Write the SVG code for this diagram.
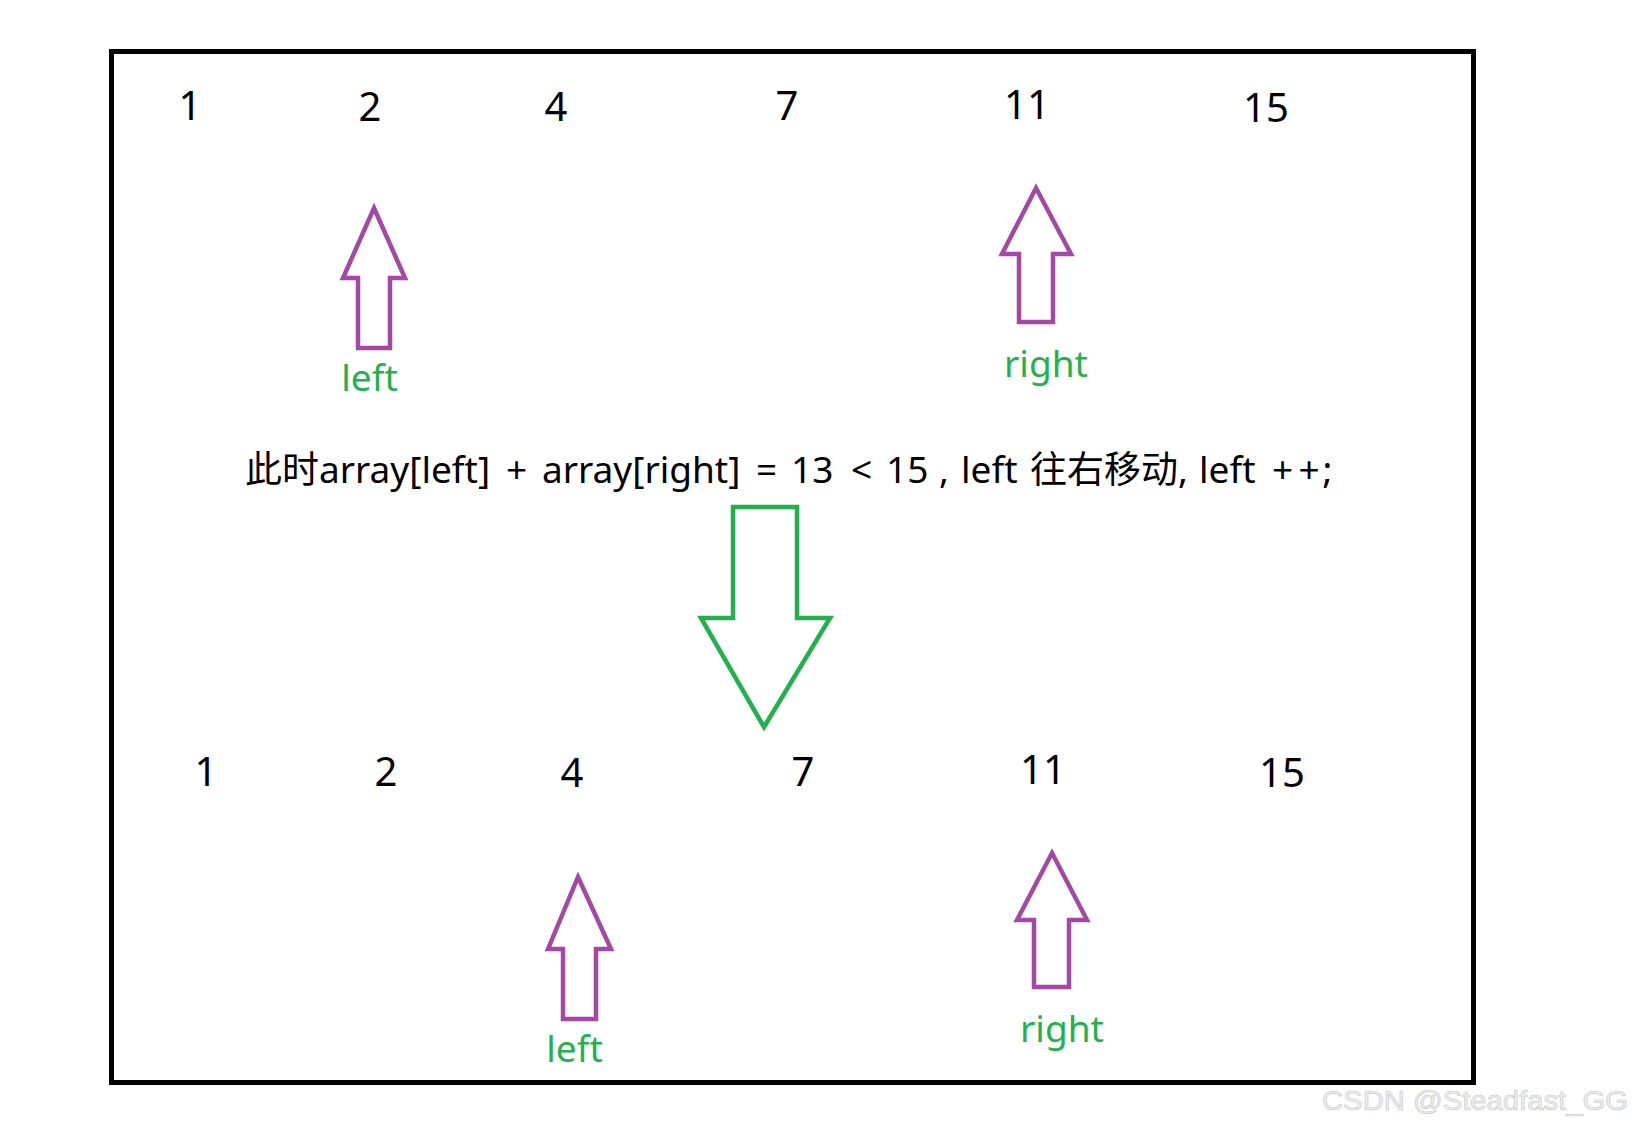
<svg xmlns="http://www.w3.org/2000/svg" width="1635" height="1127" viewBox="0 0 1635 1127">
<style>
.num{font-family:"Noto Sans","Open Sans","Noto Sans CJK SC",sans-serif;font-size:40px;fill:#000;text-anchor:middle}
.lbl{font-family:"Noto Sans","Open Sans",sans-serif;font-size:37px;fill:#22b14c;text-anchor:middle}
.stmt{font-family:"Noto Sans","Noto Sans CJK SC",sans-serif;font-size:37px;fill:#000}
.ptr{fill:none;stroke:#a349a4;stroke-width:4.5;stroke-linejoin:miter}
.move{fill:none;stroke:#22b14c;stroke-width:4.5;stroke-linejoin:miter}
.wm{font-family:"Liberation Sans",Arial,sans-serif;font-size:27px;fill:#f0f0f0;stroke:#c6c6c6;stroke-width:0.6}
</style>
<rect width="1635" height="1127" fill="#fff"/>
<g id="frame"><rect x="111.5" y="51.5" width="1362" height="1031" fill="none" stroke="#000" stroke-width="5"/></g>

<g id="row1">
<text class="num" x="190" y="120">1</text>
<text class="num" x="370" y="121">2</text>
<text class="num" x="556" y="121">4</text>
<text class="num" x="787" y="120">7</text>
<text class="num" x="1027" y="119">11</text>
<text class="num" x="1266" y="122">15</text>
</g>

<g id="left-ptr-1"><path class="ptr" d="M374,208 L405,278 L390,278 L390,348 L358,348 L358,278 L343,278 Z"/><text class="lbl" x="369.5" y="391">left</text></g>
<g id="right-ptr-1"><path class="ptr" d="M1036,188 L1071,254 L1053,254 L1053,322 L1019,322 L1019,254 L1002,254 Z"/><text class="lbl" x="1046" y="377">right</text></g>

<g id="statement">
<text class="stmt" y="483"><tspan x="245">此时array[left]</tspan><tspan x="506">+</tspan><tspan x="542">array[right]</tspan><tspan x="756">=</tspan><tspan x="791">13</tspan><tspan x="851">&lt;</tspan><tspan x="886">15</tspan><tspan x="939">,</tspan><tspan x="961">left</tspan><tspan x="1030">往右移动,</tspan><tspan x="1199">left</tspan><tspan x="1272">+</tspan><tspan x="1298.5">+</tspan><tspan x="1322.5">;</tspan></text>
</g>

<g id="connectors"><path class="move" d="M733,507 L797,507 L797,618 L830,618 L764,727 L701,618 L733,618 Z"/></g>

<g id="row2">
<text class="num" x="206" y="786">1</text>
<text class="num" x="386" y="786">2</text>
<text class="num" x="572" y="787">4</text>
<text class="num" x="803" y="786">7</text>
<text class="num" x="1043" y="784">11</text>
<text class="num" x="1282" y="787">15</text>
</g>

<g id="left-ptr-2"><path class="ptr" d="M578,877 L611,949 L596,949 L596,1019 L563,1019 L563,949 L548,949 Z"/><text class="lbl" x="574.5" y="1062">left</text></g>
<g id="right-ptr-2"><path class="ptr" d="M1052,853 L1087,920 L1069,920 L1069,987 L1034,987 L1034,920 L1017,920 Z"/><text class="lbl" x="1062" y="1042">right</text></g>

<g id="watermark"><text class="wm" x="1322" y="1110" textLength="306" lengthAdjust="spacingAndGlyphs">CSDN @Steadfast_GG</text></g>
</svg>
